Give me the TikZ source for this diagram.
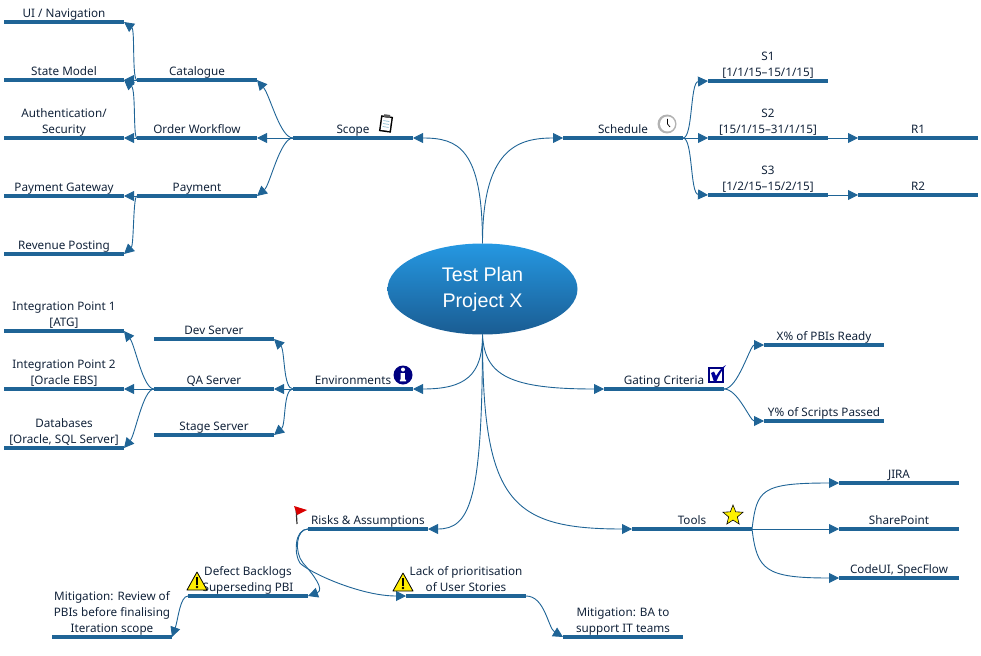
\documentclass[tikz,border=0pt]{standalone}
\usepackage{fontspec}
\setmainfont{Noto Sans}
\newfontfamily\titlefont{Liberation Sans}
\usetikzlibrary{arrows.meta,shapes.geometric}
\definecolor{mapblue}{HTML}{1F6496}
\definecolor{inkblue}{HTML}{12233A}
\definecolor{rootTop}{HTML}{2598E2}
\definecolor{rootBot}{HTML}{1A5C92}
\tikzset{
  topic/.style={anchor=south west,minimum width=120pt,inner xsep=0pt,inner ysep=0pt,outer sep=0pt,align=center,text=inkblue,font=\fontsize{11.7}{16}\selectfont},
  barline/.style={draw=mapblue,line width=3.4pt},
  link/.style={draw=mapblue,line width=0.9pt,-{Triangle[length=10pt,width=10pt,fill=mapblue]}},
  rootnode/.style={ellipse,minimum width=190pt,minimum height=91pt,inner sep=0pt,top color=rootTop,bottom color=rootBot,text=white,align=center,font=\titlefont\fontsize{19.7}{26}\selectfont},
}
\newcommand{\topic}[4]{\node[topic] (#1) at (#2,#3) {#4\strut};\draw[barline] (#1.south west) -- (#1.south east);}
\begin{document}
\begin{tikzpicture}[x=1pt,y=-1pt]
\useasboundingbox (0,0) rectangle (981,655);
\node[rootnode] (root) at (482.5,289) {\raisebox{-3pt}{Test Plan}\\\raisebox{-3pt}{Project X}};
\topic{ui}{4}{22}{UI / Navigation}
\topic{state}{4}{80}{State Model}
\topic{auth}{4}{138}{Authentication/\\Security}
\topic{gateway}{4}{196}{Payment Gateway}
\topic{revenue}{4}{254}{Revenue Posting}
\topic{catalogue}{137}{80}{Catalogue}
\topic{order}{137}{138}{Order Workflow}
\topic{payment}{137}{196}{Payment}
\topic{scope}{293}{138}{Scope}
\topic{schedule}{563}{138}{Schedule}
\topic{s1}{708}{81}{S1\\{}[1/1/15--15/1/15]}
\topic{s2}{708}{138}{S2\\{}[15/1/15--31/1/15]}
\topic{s3}{708}{195}{S3\\{}[1/2/15--15/2/15]}
\topic{r1}{858}{138}{R1}
\topic{r2}{858}{195}{R2}
\topic{ip1}{4}{331}{Integration Point 1\\{}[ATG]}
\topic{ip2}{4}{389}{Integration Point 2\\{}[Oracle EBS]}
\topic{db}{4}{448}{Databases\\{}[Oracle, SQL Server]}
\topic{dev}{154}{339}{Dev Server}
\topic{qa}{154}{389}{QA Server}
\topic{stage}{154}{435}{Stage Server}
\topic{env}{293}{389}{Environments}
\topic{gating}{604}{389}{Gating Criteria}
\topic{xpc}{764}{345}{X\% of PBIs Ready}
\topic{ypc}{764}{421}{Y\% of Scripts Passed}
\topic{tools}{632}{529}{Tools}
\topic{jira}{839}{483}{JIRA}
\topic{share}{839}{529}{SharePoint}
\topic{code}{839}{578}{CodeUI, SpecFlow}
\topic{risks}{308}{529}{Risks \& Assumptions}
\topic{defect}{188}{596}{Defect Backlogs\\Superseding PBI}
\topic{lack}{406}{596}{Lack of prioritisation\\of User Stories}
\topic{mitl}{52}{637}{Mitigation: Review of\\PBIs before finalising\\Iteration scope}
\topic{mitr}{563}{637}{Mitigation: BA to\\support IT teams}

% root branches
\draw[link] (root.north) .. controls +(0,-95) and +(-45,0) .. (schedule.south west);
\draw[link] (root.north) .. controls +(0,-95) and +(45,0) .. (scope.south east);
\draw[link] (root.south) .. controls +(0,41) and +(52,0) .. (env.south east);
\draw[link] (root.south) .. controls +(2,41) and +(-94,0) .. (gating.south west);
\draw[link] (root.south) .. controls +(0,166) and +(-122,0) .. (tools.south west);
\draw[link] (root.south) .. controls +(0,166) and +(42,0) .. (risks.south east);
% scope
\draw[link] (scope.south west) .. controls +(-13,0) and +(13,15) .. (catalogue.south east);
\draw[link] (scope.south west) -- (order.south east);
\draw[link] (scope.south west) .. controls +(-13,0) and +(13,-11) .. (payment.south east);
\draw[link] (catalogue.south west) .. controls +(-5,0) and +(11,8) .. (ui.south east);
\draw[link] (catalogue.south west) -- (state.south east);
\draw[link] (order.south west) .. controls +(-4,0) and +(12,10) .. (state.south east);
\draw[link] (order.south west) -- (auth.south east);
\draw[link] (payment.south west) -- (gateway.south east);
\draw[link] (payment.south west) .. controls +(-4,0) and +(10,-9) .. (revenue.south east);
% schedule
\draw[link] (schedule.south east) .. controls +(10,0) and +(-18,1) .. (s1.south west);
\draw[link] (schedule.south east) -- (s2.south west);
\draw[link] (schedule.south east) .. controls +(10,0) and +(-18,-1) .. (s3.south west);
\draw[link] (s2.south east) -- (r1.south west);
\draw[link] (s3.south east) -- (r2.south west);
% environments
\draw[link] (env.south west) .. controls +(-10,0) and +(11,11) .. (dev.south east);
\draw[link] (env.south west) -- (qa.south east);
\draw[link] (env.south west) .. controls +(-10,0) and +(12,-10) .. (stage.south east);
\draw[link] (qa.south west) .. controls +(-11,0) and +(11,14) .. (ip1.south east);
\draw[link] (qa.south west) -- (ip2.south east);
\draw[link] (qa.south west) .. controls +(-11,0) and +(11,-13) .. (db.south east);
% gating
\draw[link] (gating.south east) .. controls +(14,0) and +(-14,0) .. (xpc.south west);
\draw[link] (gating.south east) .. controls +(14,0) and +(-14,0) .. (ypc.south west);
% tools
\draw[link] (tools.south east) .. controls +(5,-39) and +(-79,0) .. (jira.south west);
\draw[link] (tools.south east) -- (share.south west);
\draw[link] (tools.south east) .. controls +(5,41) and +(-74,0) .. (code.south west);
% risks
\draw[link] (risks.south west) .. controls +(-12,0) and +(-9,-11) .. ++(-5,34) .. controls +(10,11) and +(17,-6) .. (defect.south east);
\draw[link] (risks.south west) .. controls +(-14,0) and +(-6,-8) .. ++(-8,34) .. controls +(8,9) and +(-46,0) .. (lack.south west);
\draw[link] (defect.south west) .. controls +(-8,0) and +(6,-17) .. (mitl.south east);
\draw[link] (lack.south east) .. controls +(19,0) and +(-15,-9) .. (mitr.south west);

% icons
% clipboard
\begin{scope}[shift={(386,124)},rotate=-8]
\fill[black] (-6,-8) rectangle (6,8);
\fill[white] (-4.5,-6.5) rectangle (4.5,6.5);
\fill[gray!70!black] (-3,-9.5) rectangle (3,-6.5);
\draw[cyan!50!gray,line width=.5pt] (-3,-3)--(3,-3) (-3,0)--(3,0) (-3,3)--(3,3);
\end{scope}
% clock
\fill[gray!60] (667,124) circle (9.5);
\fill[white] (667.5,124) circle (7.5);
\draw[black,line width=.7pt] (667.5,124) -- (667.5,119) (667.5,124) -- (670,127);
% info
\fill[blue!50!black] (403,375) circle (9.5);
\fill[white] (403,369.5) circle (2);
\fill[white] (400.5,373) rectangle (404.8,381) (399.8,379.6) rectangle (406,381.4);
% checkbox
\draw[draw=blue!50!black,line width=2pt,fill=white] (709,368) rectangle (723,382);
\fill[blue!60!black] (711,373) -- (714,371.5) -- (716,376) .. controls (719,371) and (722,367) .. (726,365) .. controls (722,370) and (719,375) .. (716,382) -- (714,382) -- cycle;
% star
\node[star,star points=5,star point ratio=2.3,draw=black,line width=.6pt,fill=yellow,minimum size=21pt,inner sep=0pt] (staricon) at (733,515.5) {};
% flag
\draw[gray!40!black,line width=1.2pt] (296,507) -- (297,524);
\fill[red!85!black] (294,506) -- (307,510) -- (297,515) -- cycle;
% warnings
\foreach \wx/\wy in {197/581,403/582}{
  \fill[yellow!95!orange,draw=black,line width=.8pt,line join=round] (\wx,\wy-9) -- (\wx+10,\wy+9) -- (\wx-10,\wy+9) -- cycle;
  \fill[black] (\wx-1.3,\wy-4) rectangle (\wx+1.3,\wy+3.5);
  \fill[black] (\wx,\wy+6) circle (1.4);
}
\end{tikzpicture}
\end{document}
